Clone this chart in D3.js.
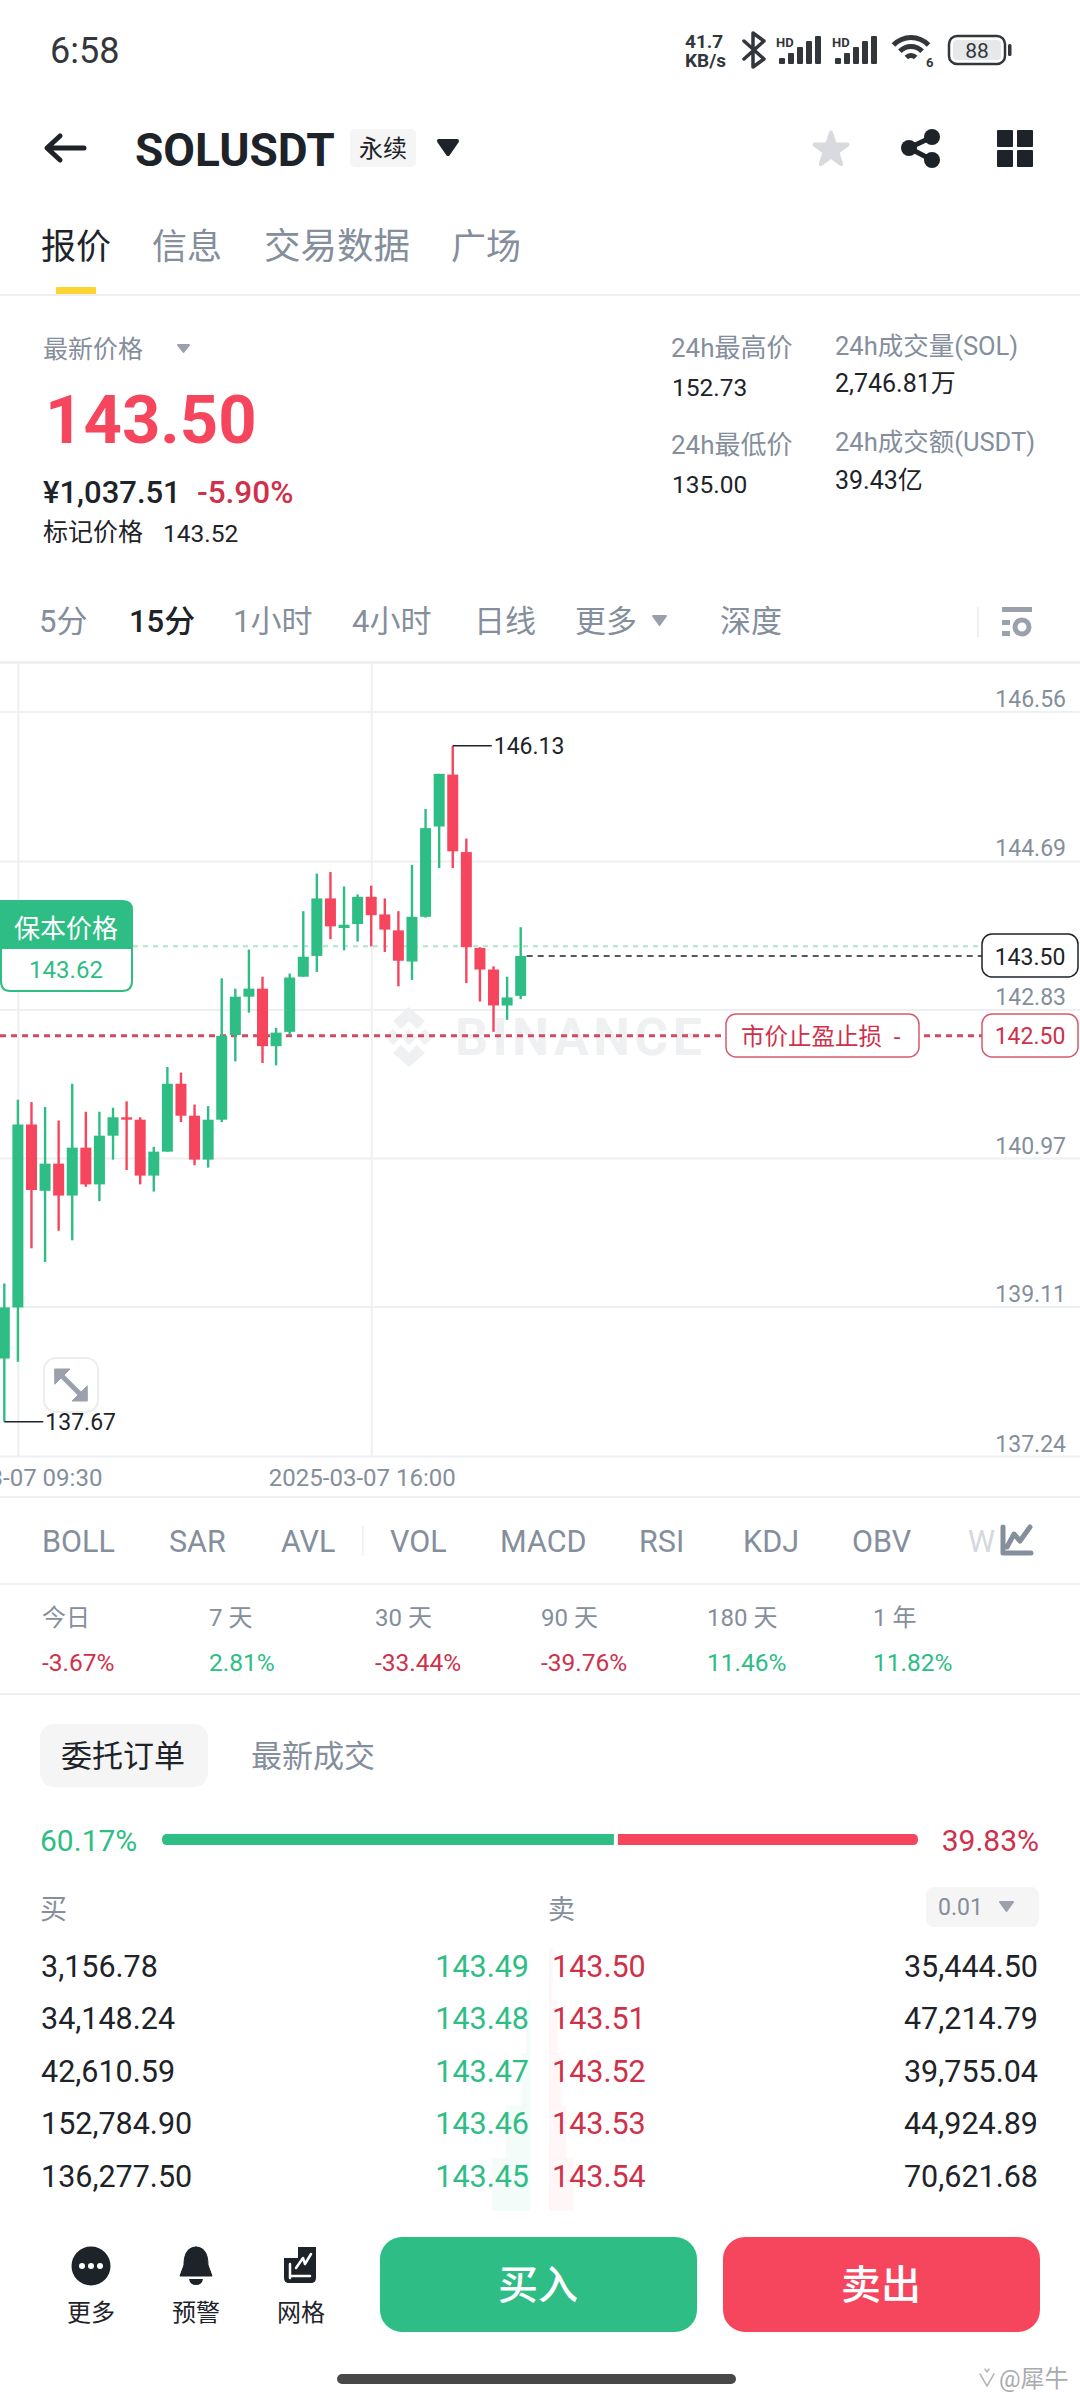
<!DOCTYPE html>
<html>
<head>
<meta charset="utf-8">
<script src="https://cdn.jsdelivr.net/npm/d3@7"></script>
<style>
	html, body { margin: 0; padding: 0; background: #fff; }
	svg { display: block; }
	text { font-family: Roboto, "Noto Sans CJK SC", sans-serif; }
</style>
</head>
<body>
<div id="chart"></div>
<script>

// 15 minute candles
var opens  = [138.46, 139.10, 141.39, 140.56, 140.90, 140.50, 141.10, 140.64, 141.25, 141.48, 141.45, 140.75, 141.05, 141.90, 141.50, 140.95, 141.45, 142.51, 142.99, 143.09, 142.37, 142.55, 143.24, 143.50, 144.22, 143.85, 143.90, 144.24, 144.02, 143.82, 143.43, 143.99, 145.12, 145.77, 144.80, 143.60, 143.33, 142.88, 143.00];
var highs  = [139.40, 141.70, 141.67, 141.61, 141.44, 141.90, 141.55, 141.55, 141.60, 141.68, 141.48, 141.11, 142.11, 142.04, 141.64, 141.62, 143.22, 143.09, 143.58, 143.24, 142.60, 143.28, 144.06, 144.53, 144.55, 144.37, 144.27, 144.38, 144.22, 144.06, 144.64, 145.34, 145.78, 146.13, 144.97, 143.61, 143.37, 143.24, 143.86];
var lows   = [137.67, 138.42, 139.84, 139.67, 140.06, 139.94, 140.61, 140.43, 140.95, 140.82, 140.64, 140.55, 141.05, 141.42, 140.88, 140.85, 141.42, 142.18, 142.79, 142.16, 142.13, 142.51, 143.24, 143.30, 143.71, 143.57, 143.68, 143.62, 143.55, 143.12, 143.20, 143.98, 144.60, 144.60, 143.16, 142.93, 142.55, 142.70, 142.96];
var closes = [139.10, 141.39, 140.57, 140.90, 140.50, 141.10, 140.64, 141.25, 141.48, 141.45, 140.75, 141.05, 141.90, 141.50, 140.95, 141.45, 142.50, 142.99, 143.09, 142.37, 142.54, 143.23, 143.49, 144.22, 143.87, 143.89, 144.24, 144.01, 143.83, 143.44, 143.99, 145.10, 145.78, 144.81, 143.61, 143.33, 142.88, 142.98, 143.50];

var priceTicks = [146.56, 144.69, 142.83, 140.97, 139.11, 137.24];
var timeTickIndex = [1, 27];
var timeTickLabels = ["2025-03-07 09:30", "2025-03-07 16:00"];

var maxPrice = 146.13, minPrice = 137.67, lastPrice = 143.50, breakEven = 143.62, stopPrice = 142.50;

var timeframes = ["5分", "15分", "1小时", "4小时", "日线", "更多", "深度"];
var indicators = ["BOLL", "SAR", "AVL", "VOL", "MACD", "RSI", "KDJ", "OBV", "W"];
var periods = ["今日", "7 天", "30 天", "90 天", "180 天", "1 年"];
var periodChanges = [-3.67, 2.81, -33.44, -39.76, 11.46, 11.82];

var ratioBuy = 60.17, ratioSell = 39.83;
var bidQty = [3156.78, 34148.24, 42610.59, 152784.90, 136277.50];
var bidPrice = [143.49, 143.48, 143.47, 143.46, 143.45];
var askPrice = [143.50, 143.51, 143.52, 143.53, 143.54];
var askQty = [35444.50, 47214.79, 39755.04, 44924.89, 70621.68];

var up = "#2ebd85", down = "#f6465d", downText = "#cf304a", ink = "#1e2329", grey = "#848e9c", line = "#eeeff1";

var svg = d3.select("#chart").append("svg").attr("width", 1080).attr("height", 2400);

function label(str, x, y, size, color, anchor, weight) {
	return svg.append("text")
		.attr("x", x).attr("y", y)
		.attr("dy", "0.36em")
		.attr("font-size", size)
		.attr("fill", color || ink)
		.attr("text-anchor", anchor || "start")
		.attr("font-weight", weight || 400)
		.text(str);
}
function rule(y, h) {
	svg.append("rect").attr("x", 0).attr("y", y).attr("width", 1080).attr("height", h || 2).attr("fill", line);
}
function box(x, y, w, h, r, fill, stroke, sw) {
	return svg.append("rect").attr("x", x).attr("y", y).attr("width", w).attr("height", h).attr("rx", r)
		.attr("fill", fill || "none").attr("stroke", stroke || "none").attr("stroke-width", sw || 0);
}
function glyph(d, fill, stroke, sw) {
	return svg.append("path").attr("d", d).attr("fill", fill || "none")
		.attr("stroke", stroke || "none").attr("stroke-width", sw || 0)
		.attr("stroke-linejoin", "round").attr("stroke-linecap", "round");
}

// status bar
label("6:58", 50, 50, 36, "#33373c");
label("41.7", 685, 41, 19, "#33373c", "start", 700);
label("KB/s", 685, 60, 19, "#33373c", "start", 700);
glyph("M744 41 L764 59 L753 67 L753 33 L764 41 L744 59", "none", "#33373c", 3.5);
[776, 832].forEach(function(x0) {
	label("HD", x0, 42, 13, "#33373c", "start", 700);
	[0, 1, 2, 3, 4].forEach(function(i) {
		var h = [6, 11, 17, 23, 28][i];
		box(x0 + 3 + i * 9, 64 - h, 6, h, 1, "#33373c");
	});
});
[[27, 5], [18, 5], [9, 5]].forEach(function(a) {
	svg.append("path")
		.attr("transform", "translate(911,62)")
		.attr("d", d3.arc()({ innerRadius: a[0] - a[1], outerRadius: a[0], startAngle: -0.8, endAngle: 0.8 }))
		.attr("fill", "#33373c");
});
label("6", 926, 62, 13, "#33373c", "start", 700);
box(949, 36, 56, 28, 8, "none", "#33373c", 2.5);
box(953, 40, 48, 20, 4, "#e7e8ea");
box(1008, 44, 3.5, 12, 1.5, "#33373c");
label("88", 977, 50, 21, "#33373c", "middle");

// header
glyph("M84 148 L48 148 M60 136 L47 148 L60 160", "none", ink, 5);
label("SOLUSDT", 135, 149, 46, ink, "start", 700);
box(350, 129, 66, 38, 5, "#f5f5f5");
label("永续", 383, 148, 24, ink, "middle");
glyph("M439 141 L457 141 L448 154 Z", ink, ink, 4);
svg.append("path")
	.attr("transform", "translate(831,150)")
	.attr("d", d3.symbol(d3.symbolStar, 340)())
	.attr("fill", "#d8dadd").attr("stroke", "#d8dadd").attr("stroke-width", 4).attr("stroke-linejoin", "round");
glyph("M932 137 L909 148 L932 160", "none", ink, 5);
[[909, 148, 8], [932, 137, 8], [932, 160, 8]].forEach(function(c) {
	svg.append("circle").attr("cx", c[0]).attr("cy", c[1]).attr("r", c[2]).attr("fill", ink);
});
[[997, 130], [1017, 130], [997, 150], [1017, 150]].forEach(function(p) {
	box(p[0], p[1], 16, 17, 1, ink);
});

// tabs
label("报价", 41, 246, 35, ink);
label("信息", 152, 246, 35, grey);
label("交易数据", 264, 246, 36.5, grey);
label("广场", 451, 246, 35, grey);
box(56, 287, 40, 8, 1, "#fcd535");
rule(294);

// price block
label("最新价格", 43, 349, 25, grey);
glyph("M178 345 L189 345 L183.5 352 Z", "#9aa1ac", "#9aa1ac", 2);
label("143.50", 45, 419, 67, down, "start", 700);
label("¥1,037.51", 43, 492, 31, ink, "start", 500);
label("-5.90%", 197, 492, 31.5, downText, "start", 500);
label("标记价格", 43, 532, 25, ink);
label("143.52", 163, 533, 24.5, ink);

label("24h最高价", 671, 348, 26, grey);
label("152.73", 672, 387, 24.5, ink);
label("24h最低价", 671, 445, 26, grey);
label("135.00", 672, 484, 24.5, ink);
label("24h成交量(SOL)", 835, 346, 25.5, grey);
label("2,746.81万", 835, 383, 25, ink);
label("24h成交额(USDT)", 835, 442, 25.5, grey);
label("39.43亿", 835, 480, 25, ink);

// timeframe row
var timeframeX = [39, 129, 233, 352, 474, 575, 720];
timeframes.forEach(function(t, i) {
	label(t, timeframeX[i], 621, 31, i === 1 ? ink : grey, "start", i === 1 ? 500 : 400);
});
glyph("M653 616 L666 616 L659.5 625 Z", "#9aa1ac", "#9aa1ac", 2);
box(977, 607, 2, 30, 0, line);
box(1002, 607, 30, 5, 0, "#9aa1ac");
box(1002, 620, 8, 5, 0, "#9aa1ac");
box(1002, 631, 8, 5, 0, "#9aa1ac");
svg.append("circle").attr("cx", 1022).attr("cy", 627).attr("r", 7).attr("fill", "none").attr("stroke", "#9aa1ac").attr("stroke-width", 5);
rule(661, 3);

// chart
var y = d3.scaleLinear().domain([137.24, 146.56]).range([1456, 711.5]);
var x = d3.scaleLinear().domain([0, 38]).range([4.3, 520.7]);
var bodyWidth = 11;
var candles = d3.range(opens.length).map(function(i) {
	return { i: i, o: opens[i], h: highs[i], l: lows[i], c: closes[i] };
});

var yAxis = svg.append("g").call(
	d3.axisRight(y).tickValues(priceTicks).tickFormat(d3.format(".2f")).tickSize(1080)
);
yAxis.select(".domain").remove();
yAxis.selectAll("line").attr("stroke", line).attr("stroke-width", 2);
yAxis.selectAll("text")
	.attr("x", 1066).attr("dy", -5)
	.attr("text-anchor", "end")
	.attr("font-family", "Roboto")
	.attr("font-size", 23)
	.attr("fill", grey);

var xAxis = svg.append("g").attr("transform", "translate(0,1456)").call(
	d3.axisBottom(x).tickValues(timeTickIndex)
		.tickFormat(function(d, i) { return timeTickLabels[i]; })
		.tickSize(-792)
);
xAxis.select(".domain").remove();
xAxis.selectAll("line").attr("stroke", line).attr("stroke-width", 2);
xAxis.selectAll("text")
	.attr("y", 21).attr("dy", "0.36em")
	.attr("dx", 84)
	.attr("text-anchor", "end")
	.attr("font-family", "Roboto")
	.attr("font-size", 24)
	.attr("fill", grey);
rule(1496);

// watermark
var wm = "#eff0f1";
glyph("M409 1007 L425 1021 L417 1029 L409 1021 L401 1029 L393 1021 Z", wm);
glyph("M385 1037 L393 1029 L401 1037 L393 1045 Z M417 1037 L425 1029 L433 1037 L425 1045 Z M401 1037 L409 1029 L417 1037 L409 1045 Z", wm);
glyph("M409 1067 L393 1053 L401 1045 L409 1053 L417 1045 L425 1053 Z", wm);
svg.append("text").attr("x", 455).attr("y", 1055)
	.attr("font-size", 52).attr("font-weight", 700).attr("fill", wm)
	.attr("textLength", 247).text("BINANCE");

// level lines sit under the candles
function level(price, x1, x2, color, sw, dash) {
	svg.append("line")
		.attr("x1", x1).attr("x2", x2)
		.attr("y1", y(price)).attr("y2", y(price))
		.attr("stroke", color).attr("stroke-width", sw).attr("stroke-dasharray", dash);
}
level(breakEven, 133, 982, "#aee3cc", 2, "5 5");
level(stopPrice, 0, 726, "#cf4a62", 3, "6 5");
level(stopPrice, 924, 982, "#cf4a62", 3, "6 5");
level(lastPrice, x(38) + 6, 982, ink, 1.5, "6 5");

var candle = svg.append("g").selectAll("g").data(candles).enter().append("g")
	.attr("fill", function(d) { return d.c >= d.o ? up : down; });
candle.append("rect")
	.attr("x", function(d) { return x(d.i) - 1.2; })
	.attr("width", 2.4)
	.attr("y", function(d) { return y(d.h); })
	.attr("height", function(d) { return y(d.l) - y(d.h); });
candle.append("rect")
	.attr("x", function(d) { return x(d.i) - bodyWidth / 2; })
	.attr("width", bodyWidth)
	.attr("y", function(d) { return y(Math.max(d.o, d.c)); })
	.attr("height", function(d) { return Math.max(2, Math.abs(y(d.o) - y(d.c))); });

// high and low callouts
function callout(price, i, text) {
	var xa = x(i), ya = y(price);
	svg.append("line").attr("x1", xa).attr("x2", xa + 39).attr("y1", ya).attr("y2", ya).attr("stroke", ink).attr("stroke-width", 1.5);
	label(text, xa + 41, ya, 23, ink);
}
callout(maxPrice, highs.indexOf(maxPrice), d3.format(".2f")(maxPrice));
callout(minPrice, lows.indexOf(minPrice), d3.format(".2f")(minPrice));

// expand button
box(44, 1358, 54, 54, 12, "#fff", "#eceded", 2);
glyph("M62 1376 L80 1394", "none", "#9aa1ac", 5);
glyph("M55 1369 L70 1369 L55 1384 Z M87 1401 L72 1401 L87 1386 Z", "#9aa1ac", "#9aa1ac", 1);

// break even tag
svg.append("path")
	.attr("d", "M-2 948 L-2 900 L123 900 Q133 900 133 910 L133 948 Z")
	.attr("fill", up);
svg.append("path")
	.attr("d", "M-2 948 L132 948 L132 981 Q132 991 122 991 L10 991 Q1 991 1 981 L1 948")
	.attr("fill", "#fff").attr("stroke", up).attr("stroke-width", 2);
label("保本价格", 66, 929, 26, "#fff", "middle");
label(d3.format(".2f")(breakEven), 66, 969, 24, up, "middle");

// last price and stop tags
box(982, 934, 96, 43, 10, "#fff", ink, 1.5);
label(d3.format(".2f")(lastPrice), 1030, 957, 23, ink, "middle");
box(726, 1014, 193, 43, 10, "#fff", "#d8596e", 1.5);
label("市价止盈止损", 741, 1037, 23.5, downText);
label("-", 897, 1036, 24, downText, "middle");
box(982, 1014, 96, 43, 10, "#fff", "#d8596e", 1.5);
label(d3.format(".2f")(stopPrice), 1030, 1036, 23, downText, "middle");

// indicators
var indicatorX = [42, 169, 281, 390, 500, 639, 743, 852, 968];
indicators.forEach(function(t, i) {
	label(t, indicatorX[i], 1541, 30.5, i === 8 ? "#d5d8dc" : grey);
});
box(362, 1526, 1.5, 30, 0, line);
glyph("M1003 1527 L1003 1553 L1031 1553 M1007 1547 L1014 1534 L1020 1541 L1030 1527", "none", grey, 5);
rule(1583);

// period returns
var periodX = [42, 209, 375, 541, 707, 873];
function pct(v) { return v.toFixed(2) + "%"; }
periods.forEach(function(t, i) {
	label(t, periodX[i], 1617, 24, grey);
	label(pct(periodChanges[i]), periodX[i], 1662, 24.5, periodChanges[i] < 0 ? downText : up);
});
rule(1693);

// order book
box(40, 1724, 168, 63, 14, "#f5f5f5");
label("委托订单", 61, 1756, 31, ink);
label("最新成交", 251, 1756, 31, grey);

var ratio = d3.scaleLinear().domain([0, ratioBuy + ratioSell]).range([162, 918]);
label(pct(ratioBuy), 40, 1840, 30, up);
label(pct(ratioSell), 1039, 1840, 30, downText, "end");
svg.append("path")
	.attr("d", "M" + (ratio(ratioBuy) - 3) + " 1834 H167 Q162 1834 162 1839.5 Q162 1845 167 1845 H" + (ratio(ratioBuy) - 3) + " Z")
	.attr("fill", up);
svg.append("path")
	.attr("d", "M" + (ratio(ratioBuy) + 1) + " 1834 H913 Q918 1834 918 1839.5 Q918 1845 913 1845 H" + (ratio(ratioBuy) + 1) + " Z")
	.attr("fill", down);

label("买", 40, 1909, 27, grey);
label("卖", 548, 1909, 27, grey);
box(926, 1887, 113, 40, 8, "#f5f5f5");
label("0.01", 938, 1907, 23, grey);
glyph("M1000 1902 L1013 1902 L1006.5 1911 Z", "#9aa1ac", "#9aa1ac", 2);

// depth shading behind the prices, cumulative size
var rows = d3.scaleLinear().domain([0, 4]).range([1966, 2176]);
var depth = d3.scaleLinear().domain([0, d3.sum(bidQty)]).range([0, 38]);
var bidCum = d3.cumsum(bidQty), askCum = d3.cumsum(askQty);
svg.append("g").selectAll("rect").data(bidPrice).enter().append("rect")
	.attr("x", function(d, i) { return 530 - depth(bidCum[i]); })
	.attr("y", function(d, i) { return rows(i) - 18; })
	.attr("width", function(d, i) { return depth(bidCum[i]); })
	.attr("height", 53)
	.attr("fill", up).attr("opacity", 0.05);
svg.append("g").selectAll("rect").data(askPrice).enter().append("rect")
	.attr("x", 549)
	.attr("y", function(d, i) { return rows(i) - 18; })
	.attr("width", function(d, i) { return depth(askCum[i]); })
	.attr("height", 53)
	.attr("fill", down).attr("opacity", 0.05);

var qty = d3.format(",.2f");
bidPrice.forEach(function(p, i) {
	label(qty(bidQty[i]), 41, rows(i), 30.5, ink);
	label(p.toFixed(2), 529, rows(i), 30.5, up, "end");
	label(askPrice[i].toFixed(2), 552, rows(i), 30.5, downText);
	label(qty(askQty[i]), 1038, rows(i), 30.5, ink, "end");
});

// bottom bar
svg.append("circle").attr("cx", 91).attr("cy", 2266).attr("r", 19.5).attr("fill", ink);
[82, 91, 100].forEach(function(cx) {
	svg.append("circle").attr("cx", cx).attr("cy", 2266).attr("r", 3).attr("fill", "#fff");
});
glyph("M196 2247 C186 2247 184 2257 184 2265 L180 2276 L212 2276 L208 2265 C208 2257 206 2247 196 2247 Z", ink, ink, 1);
glyph("M189 2279 L203 2279 Q202 2285 196 2285 Q190 2285 189 2279 Z", ink);
glyph("M298 2247 L316 2247 L316 2278 Q316 2283 311 2283 L289 2283 Q284 2283 284 2278 L284 2258 L298 2258 Z", ink);
glyph("M290 2278 L290 2264 M290 2276 L310 2276 M296 2268 L303 2258 L305 2264 L311 2254", "none", "#fff", 2.5);
label("更多", 91, 2312, 24, ink, "middle");
label("预警", 196, 2312, 24, ink, "middle");
label("网格", 301, 2312, 24, ink, "middle");

box(380, 2237, 317, 95, 22, up);
label("买入", 538, 2285, 40, "#fff", "middle", 500);
box(723, 2237, 317, 95, 22, down);
label("卖出", 881, 2285, 40, "#fff", "middle", 500);

box(337, 2374, 399, 10, 5, "#484848");

// source mark
glyph("M980 2374 L987 2386 L994 2374 M985 2369 L987 2372 L989 2369", "none", "#b4b6b9", 1.5);
label("@犀牛", 999, 2378, 24, "#a9abae");

</script>
</body>
</html>
